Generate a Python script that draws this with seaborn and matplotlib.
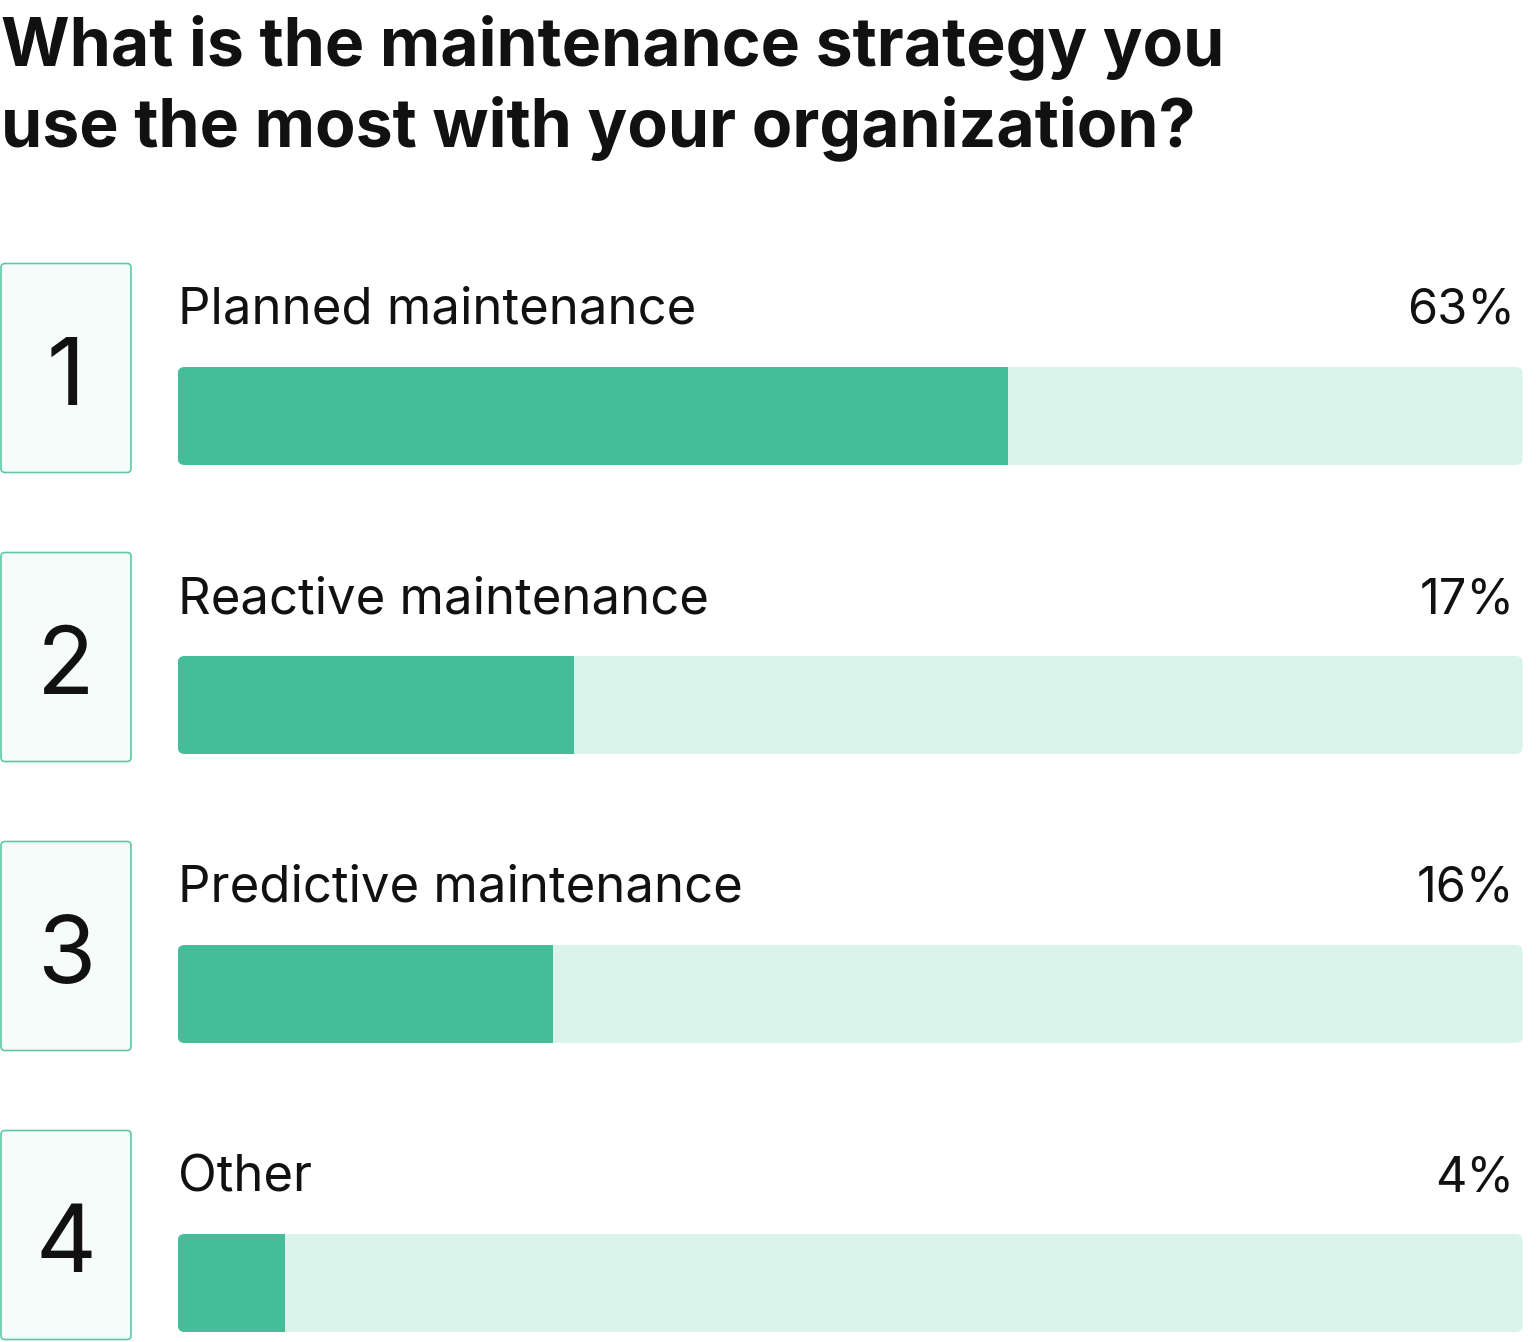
import matplotlib
matplotlib.use("Agg")
import matplotlib.pyplot as plt
import numpy as np
import pandas as pd
import seaborn as sns
from matplotlib.patches import FancyBboxPatch

sns.set_theme(style="white")
plt.rcParams["font.family"] = ["Inter", "DejaVu Sans"]

# --- data ---
title = "What is the maintenance strategy you\nuse the most with your organization?"
ranks = ["1", "2", "3", "4"]
strategies = ["Planned maintenance", "Reactive maintenance", "Predictive maintenance", "Other"]
pct_labels = [63, 17, 16, 4]
# filled share of the track, as drawn (not proportional to the labels)
fill_len = [61.7, 29.5, 27.9, 8.0]
track_len = [100, 100, 100, 100]

FILL = "#45bd99"
TRACK = "#daf4ec"
BOX_FACE = "#f6fcfa"
BOX_EDGE = "#5cc8a5"

W, H = 1536, 1342
fig = plt.figure(figsize=(W / 100, H / 100), dpi=100)

# bar area, in pixels: x 177.7..1522.7, y 367..1332
ax = fig.add_axes([177.7 / W, 1 - 1332 / H, 1345 / W, 965 / H])
df = pd.DataFrame({"strategy": strategies, "track": track_len, "fill": fill_len})
bar_h = 98 / 289
sns.barplot(data=df, y="strategy", x="track", order=strategies, color=TRACK,
            width=bar_h, saturation=1, ax=ax)
n_track = len(ax.patches)
sns.barplot(data=df, y="strategy", x="fill", order=strategies, color=FILL,
            width=bar_h, saturation=1, ax=ax)
ax.set_xlim(0, 100)
ax.set_ylim(3 + bar_h / 2, -bar_h / 2)
ax.set_axis_off()


def px_aspect(a):
    # data-units-per-pixel ratio (y over x) for round corners
    (x0, y0), (x1, y1) = a.transData.inverted().transform([[0, 0], [1, 1]])
    return abs(y1 - y0) / abs(x1 - x0), abs(x1 - x0)


aspect, xpp = px_aspect(ax)
rects = list(ax.patches)
tracks = []
for k, r in enumerate(rects):
    x, y, w, h = r.get_x(), r.get_y(), r.get_width(), r.get_height()
    r.remove()
    if k < n_track:
        p = FancyBboxPatch((x, y), w, h, boxstyle=f"round,pad=0,rounding_size={7 * xpp}",
                           mutation_aspect=aspect, fc=TRACK, ec="none", lw=0)
        ax.add_patch(p)
        tracks.append(p)
    else:
        p = plt.Rectangle((x, y), w, h, fc=FILL, ec="none", lw=0)
        ax.add_patch(p)
        p.set_clip_path(tracks[k - n_track])

for i, (name, pct) in enumerate(zip(strategies, pct_labels)):
    ax.text(0, i - 92 / 289, name, ha="left", va="baseline", fontsize=36.6,
            color="#111111", clip_on=False)
    ax.text(99.4, i - 92 / 289, f"{pct}%", ha="right", va="baseline", fontsize=35,
            color="#111111", clip_on=False)

# rank boxes, sharing the row scale
axn = fig.add_axes([1 / W, 1 - 1332 / H, 130 / W, 965 / H], sharey=ax)
axn.set_xlim(0, 1)
axn.set_axis_off()
aspect_n, xpp_n = px_aspect(axn)
box_h = 209 / 289
for i, rk in enumerate(ranks):
    c = i - 48 / 289
    axn.add_patch(FancyBboxPatch((0, c - box_h / 2), 1, box_h,
                                 boxstyle=f"round,pad=0,rounding_size={4 * xpp_n}",
                                 mutation_aspect=aspect_n, fc=BOX_FACE, ec=BOX_EDGE,
                                 lw=1.2, clip_on=False))
    axn.text(0.5, i - 11 / 289, rk, ha="center", va="baseline", fontsize=68,
             color="#111111", clip_on=False)

fig.text(1 / W, 1 - 14 / H, title, ha="left", va="top", fontsize=47.6,
         fontweight="bold", color="#111111", linespacing=1.3)

fig.savefig("out.png", dpi=100, facecolor="white")
